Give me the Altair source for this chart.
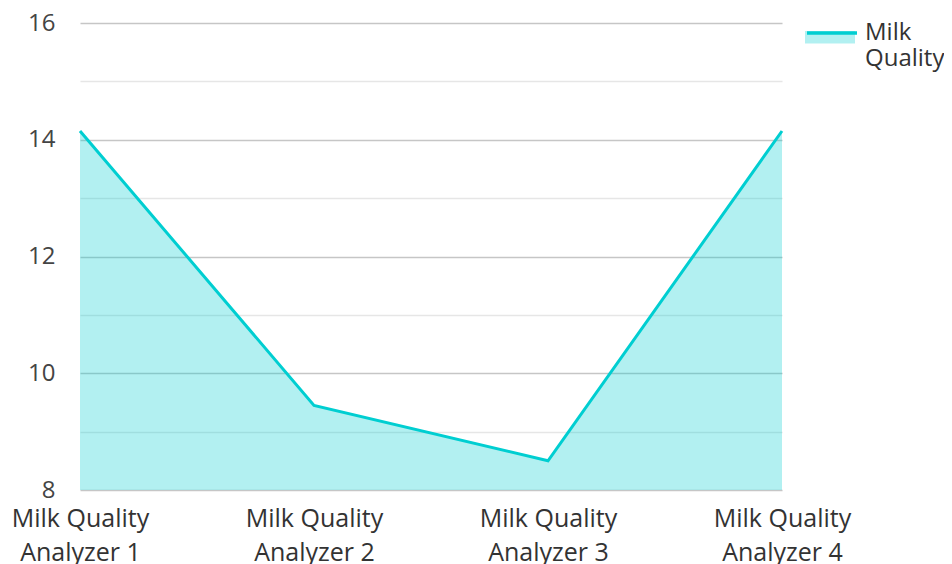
import altair as alt
import pandas as pd

categories = ["Milk Quality Analyzer 1", "Milk Quality Analyzer 2",
              "Milk Quality Analyzer 3", "Milk Quality Analyzer 4"]
values = [14.15, 9.45, 8.5, 14.15]
series_name = "Milk Quality"

df = pd.DataFrame({"cat": categories, "value": values,
                   "series": [series_name] * 4, "series_line": [series_name] * 4})

TEAL = "#00CED1"
FONT = "Open Sans"

x = alt.X("cat:N", sort=categories, title=None,
          scale=alt.Scale(type="point", padding=0),
          axis=alt.Axis(labelExpr="[slice(datum.label,0,12), slice(datum.label,13)]",
                        labelAngle=0, labelFontSize=25, labelFont=FONT, labelColor="#333",
                        labelLineHeight=34, labelPadding=16, ticks=False, domain=False,
                        grid=False, labelBaseline="top"))
y = alt.Y("value:Q", title=None,
          scale=alt.Scale(domain=[8, 16], nice=False, zero=False),
          axis=alt.Axis(values=list(range(8, 17)), domain=False, ticks=False, tickSize=0,
                        labelPadding=25, labelFontSize=24, labelFont=FONT, labelColor="#444",
                        labelExpr="datum.value % 2 == 0 ? datum.label : ''",
                        gridColor={"condition": {"test": "datum.value % 2 == 0", "value": "#c6c6c6"},
                                   "value": "#e6e6e6"},
                        gridWidth=1.5))

legend_common = dict(orient="none", legendX=725, legendY=-17, title=None,
                     symbolSize=2500, labelFontSize=24, labelFont=FONT,
                     labelOffset=6, labelBaseline="middle")

area = alt.Chart(df).mark_area(fillOpacity=0.3, opacity=1, clip=True).encode(
    x=x, y=y, y2=alt.datum(8),
    fill=alt.Color("series:N", scale=alt.Scale(range=[TEAL]),
                   legend=alt.Legend(symbolType="M-1,0L1,0L1,0.5L-1,0.5Z",
                                     symbolOpacity=0.3, symbolStrokeWidth=0,
                                     labelExpr="''", **legend_common)),
)
line = alt.Chart(df).mark_line(strokeWidth=3).encode(
    x=x, y=y,
    stroke=alt.Color("series_line:N", scale=alt.Scale(range=[TEAL]),
                     legend=alt.Legend(symbolType="stroke", symbolStrokeWidth=3.5,
                                       labelExpr="split(datum.label, ' ')",
                                       labelColor="#333", **legend_common)),
)

chart = alt.layer(area, line).resolve_scale(fill="independent", stroke="independent").properties(
    width=702, height=467,
    autosize=alt.AutoSizeParams(type="none"),
    padding={"left": 72, "top": 15, "right": 162, "bottom": 74},
).configure_view(stroke=None)

chart.save("out.html", embed_options={"renderer": "svg", "actions": False})
